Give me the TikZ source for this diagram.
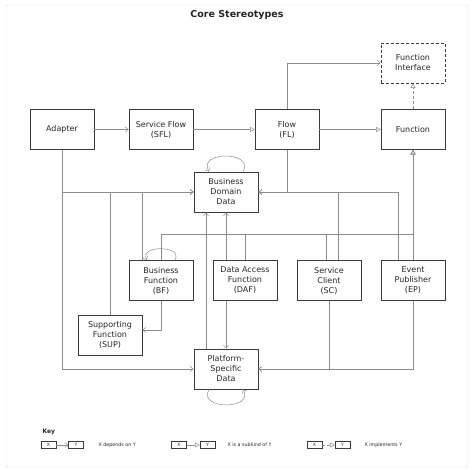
\documentclass[tikz,border=0pt]{standalone}
\usepackage{fontspec}
\setmainfont{DejaVu Sans}
\usepackage{xcolor}
\definecolor{ggray}{HTML}{8C8C8C}
\definecolor{dgray}{HTML}{3A3A3A}
\definecolor{lgray}{HTML}{DCDCDC}
\usepackage{tikz}
\usetikzlibrary{arrows.meta}
\usetikzlibrary{positioning}

\begin{document}
\begin{tikzpicture}[x=1pt,y=1pt,
  every node/.style={font=\fontsize{8}{10}\selectfont,align=center,text=black!85},
  box/.style={draw=dgray,line width=.8pt,minimum width=64pt,minimum height=40pt,inner sep=1pt},
  keybox/.style={draw=dgray,line width=.4pt,minimum width=15pt,minimum height=7pt,inner sep=0pt,font=\fontsize{4.5}{5}\selectfont},
  dep/.style={ggray,line width=.5pt,-{Straight Barb[length=3pt,width=5pt]}},
  sub/.style={ggray,line width=.5pt,-{Triangle[open,length=4.5pt,width=5pt]}},
  impl/.style={sub,densely dashed}]
\useasboundingbox (0,0) rectangle (474,470);
\draw[lgray,rounded corners=2pt] (6,3) rectangle (468,465);
\node[font=\fontsize{9.5}{11}\selectfont\bfseries] (title) at (237,455) {Core Stereotypes};
% stereotypes
\node[box] (ad) at (62,340.5) {Adapter};
\node[box] (sfl) at (161,340.5) {Service Flow\\(SFL)};
\node[box] (fl) at (287,340.5) {Flow\\(FL)};
\node[box] (fn) at (413,340.5) {Function};
\node[box,dash pattern=on 3pt off 2pt] (fi) at (413,407) {Function\\Interface};
\node[box] (bdd) at (226,278) {Business\\Domain\\Data};
\node[box] (bf) at (161,189.5) {Business\\Function\\(BF)};
\node[box] (daf) at (245,189.5) {Data Access\\Function\\(DAF)};
\node[box] (sc) at (329,189.5) {Service\\Client\\(SC)};
\node[box] (ep) at (413,189.5) {Event\\Publisher\\(EP)};
\node[box] (sup) at (110,135) {Supporting\\Function\\(SUP)};
\node[box] (psd) at (226,101) {Platform-\\Specific\\Data};
% top row
\draw[dep] (ad) -- (sfl);
\draw[sub] (sfl) -- (fl);
\draw[sub] (fl) -- (fn);
\draw[dep] (fl.north) |- (fi.west);
\draw[impl] (fn) -- (fi);
% depends on business domain data
\draw[dep] (ad.south) |- (bdd.west);
\draw[dep] (sup.north) |- (bdd.west);
\draw[dep] ([xshift=-19pt]bf.north) |- (bdd.west);
\draw[dep] (fl.south) |- (bdd.east);
\draw[dep] ([xshift=9pt]sc.north) |- (bdd.east);
\draw[dep] ([xshift=-15pt]ep.north) |- (bdd.east);
\draw[dep] ([xshift=-20pt]psd.north) -- ([xshift=-20pt]bdd.south);
\draw[dep] ([xshift=-19pt]daf.north) -- (bdd.south);
\draw[dep] ([xshift=17pt]bdd.north) to[out=60,in=120,looseness=1.8] ([xshift=-17pt]bdd.north);
% subkinds of function
\coordinate (bus) at (413,236);
\draw[sub] (bf.north) |- (bus) -- (fn.south);
\draw[sub] (daf.north) |- (bus) -- (fn.south);
\draw[sub] ([xshift=-3pt]sc.north) |- (bus) -- (fn.south);
\draw[sub] (ep.north) -- (fn.south);
\draw[dep] ([xshift=14pt]bf.north) to[out=60,in=120,looseness=1.6] ([xshift=-14pt]bf.north);
\draw[dep] (bf.south) |- ([yshift=5pt]sup.east);
% depends on platform-specific data
\draw[dep] (ad.south) |- (psd.west);
\draw[dep] ([xshift=-19pt]daf.south) -- (psd.north);
\draw[dep] (sc.south) |- (psd.east);
\draw[dep] (ep.south) |- (psd.east);
\draw[dep] ([xshift=-17pt]psd.south) to[out=-120,in=-60,looseness=1.8] ([xshift=17pt]psd.south);
% key
\node[font=\fontsize{6}{7}\selectfont\bfseries,anchor=west] (key) at (39,38) {Key};
\node[keybox] (kx1) at (48.5,25) {X};
\node[keybox] (ky1) at (76,25) {Y};
\node[keybox] (kx2) at (179,25) {X};
\node[keybox] (ky2) at (207.5,25) {Y};
\node[keybox] (kx3) at (314.5,25) {X};
\node[keybox] (ky3) at (342.5,25) {Y};
\draw[dep] (kx1) -- (ky1);
\draw[sub] (kx2) -- (ky2);
\draw[impl] (kx3) -- (ky3);
\node[anchor=west,font=\fontsize{4.8}{5}\selectfont] (kt1) at (95,25) {X depends on Y};
\node[anchor=west,font=\fontsize{4.8}{5}\selectfont] (kt2) at (224,25) {X is a subkind of Y};
\node[anchor=west,font=\fontsize{4.8}{5}\selectfont] (kt3) at (361,25) {X implements Y};
\end{tikzpicture}
\end{document}
